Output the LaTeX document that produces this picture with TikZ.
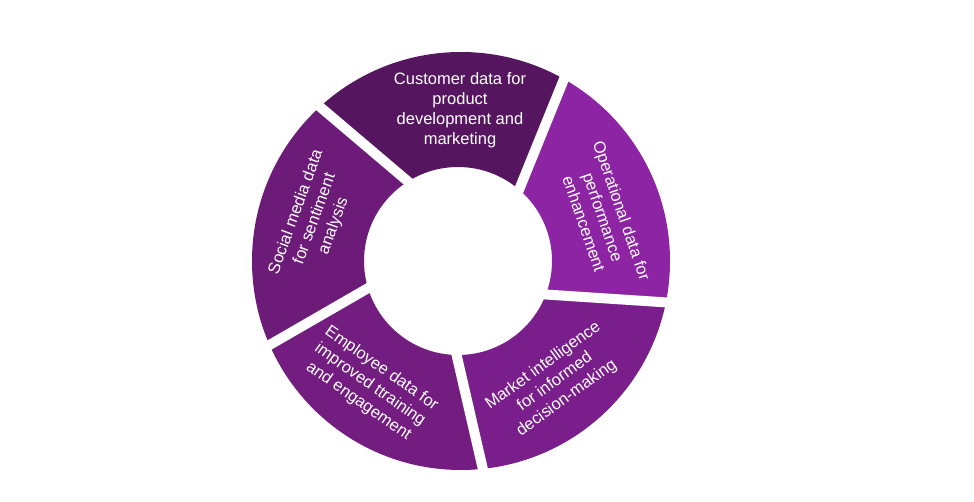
\documentclass[tikz,border=0pt]{standalone}
\usepackage{fontspec}
\setmainfont{Liberation Sans}
\usetikzlibrary{calc}
\definecolor{cCust}{HTML}{55165F}
\definecolor{cOper}{HTML}{8D24A3}
\definecolor{cMark}{HTML}{7A1E8B}
\definecolor{cEmpl}{HTML}{741D80}
\definecolor{cSoci}{HTML}{6C1B78}
\begin{document}
\begin{tikzpicture}[x=1pt,y=-1pt,
  seglabel/.style={text=white, font=\fontsize{16.5}{20}\selectfont, align=center, inner sep=0pt},
  gapline/.style={white, line width=10pt}]
\path[use as bounding box] (0,0) rectangle (974,502);
% gap lines: inner point P, outer point Q
\coordinate (P1) at (522,182.5);  \coordinate (Q1) at (564,79);
\coordinate (P2) at (553.5,295);  \coordinate (Q2) at (667.5,302.5);
\coordinate (P3) at (457.5,359);  \coordinate (Q3) at (482.5,467.5);
\coordinate (P4) at (366.5,289);  \coordinate (Q4) at (269.5,345);
\coordinate (P5) at (405,179);    \coordinate (Q5) at (319,106);
\foreach \i in {1,...,5}{
  \coordinate (P\i e) at ($(P\i)!-0.4!(Q\i)$);
  \coordinate (Q\i e) at ($(P\i)!1.4!(Q\i)$);
}
\begin{scope}[even odd rule]
  \clip (461,261) circle[radius=209pt] (458,261) circle[radius=94pt];
  \fill[cCust] (P5e) -- (Q5e) -- (425,-57) -- (Q1e) -- (P1e) -- cycle;
  \fill[cOper] (P1e) -- (Q1e) -- (752,129) -- (Q2e) -- (P2e) -- cycle;
  \fill[cMark] (P2e) -- (Q2e) -- (678,496) -- (Q3e) -- (P3e) -- cycle;
  \fill[cEmpl] (P3e) -- (Q3e) -- (300,538) -- (Q4e) -- (P4e) -- cycle;
  \fill[cSoci] (P4e) -- (Q4e) -- (147,194) -- (Q5e) -- (P5e) -- cycle;
\end{scope}
\foreach \i in {1,...,5}{
  \draw[gapline] (P\i e) -- (Q\i e);
}
\node[seglabel] (cust) at (460,110) {Customer data for\\product\\development and\\marketing};
\node[seglabel, rotate=-71] (oper) at (603,217) {Operational data for\\performance\\enhancement};
\node[seglabel, rotate=36] (mark) at (555,382) {Market intelligence\\for informed\\decision-making};
\node[seglabel, rotate=-35] (empl) at (370,385) {Employee data for\\improved ttraining\\and engagement};
\node[seglabel, rotate=70] (soci) at (315,219) {Social media data\\for sentiment\\analysis};
\end{tikzpicture}
\end{document}
